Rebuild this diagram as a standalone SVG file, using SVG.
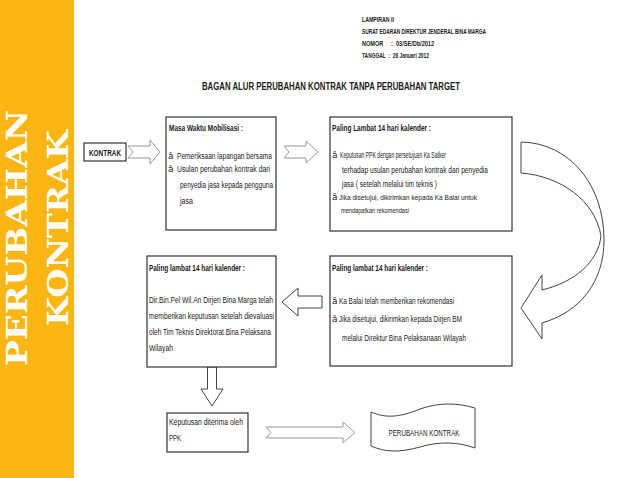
<svg xmlns="http://www.w3.org/2000/svg" width="638" height="478" viewBox="0 0 638 478">
<style>
.t{font-family:"Liberation Sans",Arial,sans-serif;font-size:8.5px;fill:#1a1a1a}
.h{font-family:"Liberation Sans",Arial,sans-serif;font-size:7px;font-weight:bold;fill:#1a1a1a;white-space:pre}
.b{font-weight:bold}
.bl{font-family:"DejaVu Sans",sans-serif;font-size:9px;fill:#1a1a1a}
.side{font-family:"DejaVu Serif","Liberation Serif",serif;font-size:28px;font-weight:bold;fill:#ffffff}
.box{fill:#ffffff;stroke:#333333;stroke-width:1.2}
.arr{fill:#ffffff;stroke:#9a9a9a;stroke-width:1}
.arrd{fill:#ffffff;stroke:#444444;stroke-width:1}
</style>
<rect x="0" y="0" width="638" height="478" fill="#ffffff"/>
<g id="sidebar">
<rect x="0" y="0" width="74" height="478" fill="#FBB614"/>
<text class="side" transform="translate(27,238) rotate(-90)" text-anchor="middle" textLength="256" lengthAdjust="spacingAndGlyphs">PERUBAHAN</text>
<text class="side" transform="translate(68,228) rotate(-90)" text-anchor="middle" textLength="196" lengthAdjust="spacingAndGlyphs">KONTRAK</text>
</g>
<g id="header">
<text class="h" x="362" y="22" textLength="32" lengthAdjust="spacingAndGlyphs">LAMPIRAN II</text>
<text class="h" x="362" y="34" textLength="124" lengthAdjust="spacingAndGlyphs">SURAT EDARAN DIREKTUR JENDERAL BINA MARGA</text>
<text class="h" x="362" y="46" xml:space="preserve" textLength="72" lengthAdjust="spacingAndGlyphs">NOMOR     :  03/SE/Db/2012</text>
<text class="h" x="362" y="58" xml:space="preserve" textLength="67" lengthAdjust="spacingAndGlyphs">TANGGAL  :  26 Januari 2012</text>
<text class="t b" x="202" y="90" style="font-size:11.5px" textLength="258" lengthAdjust="spacingAndGlyphs">BAGAN ALUR PERUBAHAN KONTRAK TANPA PERUBAHAN TARGET</text>
</g>
<g id="connectors">
<path class="arr" d="M128,146 L150,146 L150,140 L160,152 L150,164 L150,158 L128,158 L133,152 Z"/>
<path class="arr" d="M284,146 L306,146 L306,141 L318,152 L306,163 L306,158 L284,158 L289,152 Z"/>
<path class="arrd" d="M521,142 C570,143 604,185 604,240 C604,282 580,312 542,323 L542,339 L521,308 L542,275 L542,290 C575,282 598,262 601,236 C595,200 560,176 521,173 Z"/>
<path class="arrd" d="M322,296 L298,296 L298,288 L282,302 L298,316 L298,308 L322,308 Z"/>
<path class="arrd" d="M207.5,367 L216.5,367 L216.5,389 L223,389 L212,406 L201,389 L207.5,389 Z"/>
<path class="arr" d="M266,427 L343,427 L343,422 L355,432.5 L343,443 L343,438 L266,438 L271,432.5 Z"/>
</g>
<g id="kontrak">
<rect class="box" x="84" y="143" width="42" height="18"/>
<text class="t b" x="105" y="155.5" text-anchor="middle" textLength="32" lengthAdjust="spacingAndGlyphs">KONTRAK</text>
</g>
<g id="mobilisasi">
<rect class="box" x="166" y="117" width="110" height="113"/>
<text class="t b" x="169" y="131" textLength="74" lengthAdjust="spacingAndGlyphs">Masa Waktu Mobilisasi :</text>
<text class="bl" x="168" y="159">â</text>
<text class="t" x="177" y="159" textLength="95" lengthAdjust="spacingAndGlyphs">Pemeriksaan lapangan bersama</text>
<text class="bl" x="168" y="172">â</text>
<text class="t" x="177" y="172" textLength="93" lengthAdjust="spacingAndGlyphs">Usulan perubahan kontrak dari</text>
<text class="t" x="180" y="188" textLength="93" lengthAdjust="spacingAndGlyphs">penyedia jasa kepada pengguna</text>
<text class="t" x="180" y="204" textLength="13" lengthAdjust="spacingAndGlyphs">jasa</text>
</g>
<g id="keputusan-ppk-satker">
<rect class="box" x="330" y="117" width="182" height="114"/>
<text class="t b" x="332" y="131" textLength="99" lengthAdjust="spacingAndGlyphs">Paling Lambat 14 hari kalender  :</text>
<text class="bl" x="332" y="158">â</text>
<text class="t" x="340" y="158" textLength="106" lengthAdjust="spacingAndGlyphs">Keputusan PPK dengan persetujuan Ka Satker</text>
<text class="t" x="342" y="173" textLength="146" lengthAdjust="spacingAndGlyphs">terhadap usulan perubahan kontrak dari penyedia</text>
<text class="t" x="342" y="187" textLength="95" lengthAdjust="spacingAndGlyphs">jasa ( setelah melalui tim teknis )</text>
<text class="bl" x="332" y="200">â</text>
<text class="t" x="339" y="200" style="font-size:8px" textLength="138" lengthAdjust="spacingAndGlyphs">Jika disetujui, dikirimkan kepada Ka Balai untuk</text>
<text class="t" x="341" y="213" style="font-size:8px" textLength="68" lengthAdjust="spacingAndGlyphs">mendapatkan rekomendasi</text>
</g>
<g id="dirjen">
<rect class="box" x="147" y="256" width="129" height="111"/>
<text class="t b" x="149" y="271" textLength="96" lengthAdjust="spacingAndGlyphs">Paling lambat 14 hari kalender :</text>
<text class="t" x="149" y="303" textLength="124" lengthAdjust="spacingAndGlyphs">Dir.Bin.Pel Wil.An Dirjen Bina Marga telah</text>
<text class="t" x="149" y="319" textLength="125" lengthAdjust="spacingAndGlyphs">memberikan keputusan setelah dievaluasi</text>
<text class="t" x="149" y="335" textLength="122" lengthAdjust="spacingAndGlyphs">oleh Tim Teknis Direktorat Bina Pelaksana</text>
<text class="t" x="149" y="351" textLength="24" lengthAdjust="spacingAndGlyphs">Wilayah</text>
</g>
<g id="kabalai">
<rect class="box" x="330" y="256" width="182" height="110"/>
<text class="t b" x="332" y="271" textLength="96" lengthAdjust="spacingAndGlyphs">Paling lambat 14 hari kalender :</text>
<text class="bl" x="332" y="304">â</text>
<text class="t" x="339" y="304" textLength="115" lengthAdjust="spacingAndGlyphs">Ka Balai telah memberikan rekomendasi</text>
<text class="bl" x="332" y="322">â</text>
<text class="t" x="339" y="322" textLength="123" lengthAdjust="spacingAndGlyphs">Jika disetujui, dikirimkan kepada Dirjen BM</text>
<text class="t" x="342" y="341" textLength="124" lengthAdjust="spacingAndGlyphs">melalui Direktur Bina Pelaksanaan Wilayah</text>
</g>
<g id="diterima-ppk">
<rect class="box" x="167" y="413" width="81" height="39"/>
<text class="t" x="169" y="425" textLength="74" lengthAdjust="spacingAndGlyphs">Keputusan diterima oleh</text>
<text class="t" x="169" y="441" textLength="12" lengthAdjust="spacingAndGlyphs">PPK</text>
</g>
<g id="perubahan-kontrak">
<path fill="#ffffff" stroke="#444444" stroke-width="1" d="M371,412 C385,418 398,418 420,409 C440,402 458,403 475,408 L475,448 C458,442 440,441 420,447 C398,453 385,452 371,446 Z"/>
<text class="t" x="424" y="436" text-anchor="middle" textLength="71" lengthAdjust="spacingAndGlyphs">PERUBAHAN KONTRAK</text>
</g>
</svg>
